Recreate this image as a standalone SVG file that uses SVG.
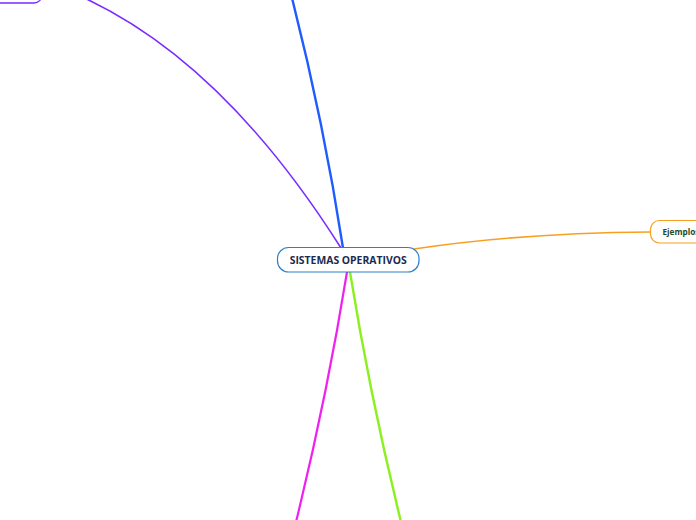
<svg xmlns="http://www.w3.org/2000/svg" width="696" height="520" viewBox="0 0 696 520">
<style>
.conn{fill:none;stroke-linecap:round}
.node rect{fill:#ffffff}
.lbl{font-family:"Open Sans","Liberation Sans",sans-serif;font-weight:bold}
</style>
<rect width="696" height="520" fill="#ffffff"/>
<g id="connectors">
<path class="conn" d="M343,248 Q324,124 292,-2" stroke="#1f5cff" stroke-width="2.4"/>
<path class="conn" d="M341,248 Q222,60 80,-4" stroke="#7a2cff" stroke-width="1.6"/>
<path class="conn" d="M414,249 Q520,233 650,232" stroke="#f7a020" stroke-width="1.6"/>
<path class="conn" d="M347,272 Q327,396 296,522" stroke="#f020f0" stroke-width="2.2"/>
<path class="conn" d="M350,272 Q370,396 401,522" stroke="#8cf020" stroke-width="2.4"/>
</g>
<g id="node-purple" class="node">
<rect x="-20" y="-22" width="62" height="25" rx="8" stroke="#7a2cff" stroke-width="1.3"/>
</g>
<g id="node-central" class="node">
<rect x="277.5" y="247.5" width="141.5" height="24.5" rx="11" stroke="#2f7fc8" stroke-width="1.2"/>
<text class="lbl" x="348.2" y="264" text-anchor="middle" font-size="10.4" fill="#1b2a4e">SISTEMAS OPERATIVOS</text>
</g>
<g id="node-ejemplos" class="node">
<rect x="650.5" y="220.5" width="80" height="22.5" rx="9" stroke="#f7a020" stroke-width="1.2"/>
<text class="lbl" x="662.5" y="235.3" font-size="8.2" fill="#1d4a2c">Ejemplos</text>
</g>
</svg>
